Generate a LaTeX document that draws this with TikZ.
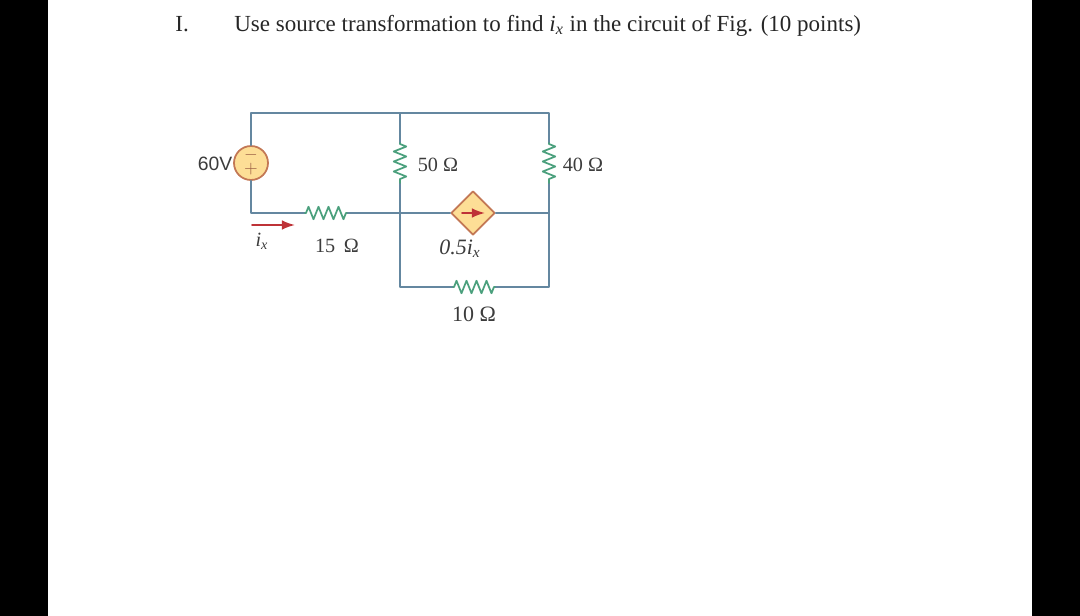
\documentclass[tikz,border=0pt]{standalone}
\usepackage{fontspec}
\setmainfont{Liberation Serif}
\setsansfont{Liberation Sans}
\usetikzlibrary{decorations.pathmorphing}
\usetikzlibrary{shapes.geometric}
\usetikzlibrary{arrows.meta}
\definecolor{wirecol}{RGB}{100,135,160}
\definecolor{rescol}{RGB}{75,160,125}
\definecolor{srcfill}{RGB}{253,222,150}
\definecolor{srcedge}{RGB}{195,120,85}
\definecolor{arrowcol}{RGB}{190,50,55}
\definecolor{labelcol}{RGB}{60,60,60}
\newcommand{\ix}{\textit{i\textsubscript{x}}}
\tikzset{
wire/.style={line width=1pt,color=wirecol},
resistor/.style={line width=1pt,color=rescol,decorate,decoration={zigzag,segment length=0.2cm,amplitude=0.125cm,pre length=0.02cm,post length=0.02cm}},
srcnode/.style={draw=srcedge,fill=srcfill,line width=1pt,inner sep=0pt},
lbl/.style={color=labelcol,font=\fontsize{11.5}{13}\selectfont,inner sep=0pt},
titletext/.style={color=black!85,font=\fontsize{13.1}{15}\selectfont,inner sep=0pt,anchor=base west},
ctrlarrow/.style={line width=1pt,color=arrowcol,-{Latex[length=7.5pt,width=5.5pt]}}
}
\begin{document}
\begin{tikzpicture}[line cap=round,line join=round,x=0.02cm,y=-0.02cm]
\useasboundingbox (0,0) rectangle (1080,616);
\fill [black] (0,0) rectangle (48,616);
\fill [black] (1032,0) rectangle (1080,616);
% title
\node [titletext] (num) at (175,31) {I.};
\node [titletext] (title) at (234,31) {Use source transformation to find \ix{} in the circuit of Fig. (10 points)};
% corners and junctions
\coordinate (tl) at (251,113);
\coordinate (tm) at (400,113);
\coordinate (tr) at (549,113);
\coordinate (bl) at (251,213);
\coordinate (jm) at (400,213);
\coordinate (jr) at (549,213);
\coordinate (lm) at (400,287);
\coordinate (lr) at (549,287);
% resistor ends
\coordinate (r15a) at (305,213);
\coordinate (r15b) at (347,213);
\coordinate (r50a) at (400,143);
\coordinate (r50b) at (400,183);
\coordinate (r40a) at (549,143);
\coordinate (r40b) at (549,183);
\coordinate (r10a) at (453,287);
\coordinate (r10b) at (495,287);
% sources
\node [srcnode,circle,minimum size=0.68cm] (vs) at (251,163) {};
\node [srcnode,diamond,minimum width=0.88cm,minimum height=0.88cm] (cs) at (473,213) {};
% wires
\draw [wire] (vs)-- (tl)-- (tm)-- (tr)-- (r40a);
\draw [wire] (vs)-- (bl)-- (r15a);
\draw [wire] (r15b)-- (jm)-- (cs);
\draw [wire] (cs)-- (jr);
\draw [wire] (tm)-- (r50a);
\draw [wire] (r50b)-- (jm)-- (lm)-- (r10a);
\draw [wire] (r10b)-- (lr)-- (jr)-- (r40b);
% resistors
\draw [resistor] (r15a)-- (r15b);
\draw [resistor] (r50a)-- (r50b);
\draw [resistor] (r40a)-- (r40b);
\draw [resistor] (r10a)-- (r10b);
% source marks
\node [color=srcedge!80!black,font=\fontsize{10}{10}\selectfont,inner sep=0pt] (vminus) at (251,155) {$-$};
\node [color=srcedge!80!black,font=\fontsize{10}{10}\selectfont,inner sep=0pt] (vplus) at (251,169) {$+$};
\coordinate (csa) at (462,213);
\coordinate (csb) at (485,213);
\draw [ctrlarrow] (csa)-- (csb);
\coordinate (ixa) at (252,225);
\coordinate (ixb) at (295,225);
\draw [ctrlarrow] (ixa)-- (ixb);
% labels
\node [lbl,font=\sffamily\fontsize{11}{13}\selectfont] (l60) at (215,164) {60V};
\node [lbl] (lix) at (262,241) {\ix};
\node [lbl] (l15) at (337,246) {15 $\,$Ω};
\node [lbl] (l50) at (438,165) {50 Ω};
\node [lbl] (l40) at (583,165) {40 Ω};
\node [lbl,font=\fontsize{12.5}{14}\selectfont] (lcs) at (460,249) {\textit{0.5i\textsubscript{x}}};
\node [lbl,font=\fontsize{12.5}{14}\selectfont] (l10) at (474,314) {10 Ω};
\end{tikzpicture}
\end{document}
